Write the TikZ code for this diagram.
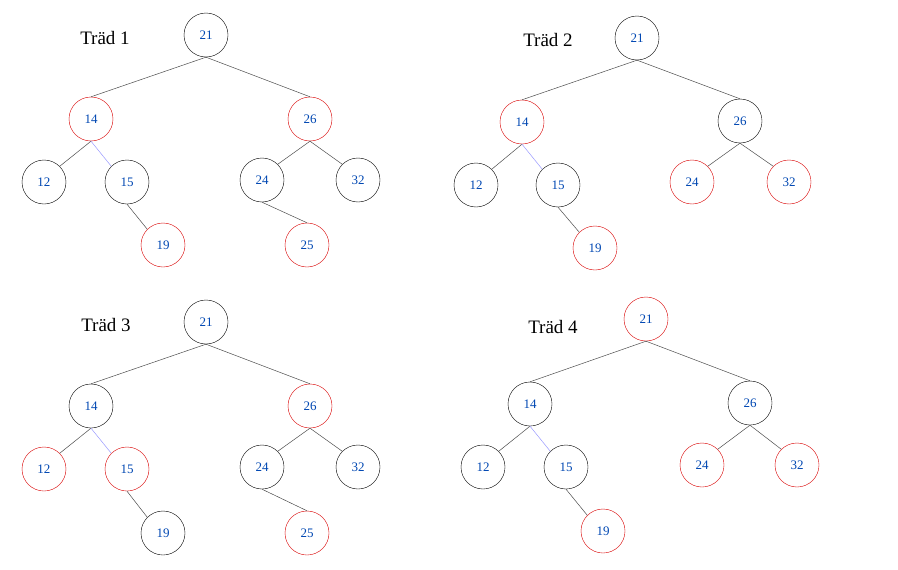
\documentclass[tikz,border=0pt]{standalone}
\usepackage{fontspec}
\setmainfont{Liberation Serif}
\begin{document}
\begin{tikzpicture}[x=1pt,y=-1pt,
 nd/.style={circle,draw=black,minimum size=44pt,inner sep=0pt,text=blue!60!cyan!70!black,font=\fontsize{13}{15}\selectfont},
 rd/.style={nd,draw=red!85!black},
 ed/.style={draw=black!70,line width=0.5pt},
 be/.style={draw=blue!40,line width=0.5pt},
 ttl/.style={font=\fontsize{19}{22}\selectfont}]
\useasboundingbox (0,0) rectangle (898,570);
% Tree 1
\node[nd] (a21) at (206,35) {21};
\node[rd] (a14) at (91,119) {14};
\node[rd] (a26) at (310,119) {26};
\node[nd] (a12) at (44,182) {12};
\node[nd] (a15) at (127,182) {15};
\node[nd] (a24) at (262,180) {24};
\node[nd] (a32) at (358,180) {32};
\node[rd] (a19) at (163,245) {19};
\node[rd] (a25) at (307,245) {25};
\node[ttl] (t1) at (105,38) {Träd 1};
% Tree 2
\node[nd] (b21) at (637,38) {21};
\node[rd] (b14) at (522,122) {14};
\node[nd] (b26) at (740,121) {26};
\node[nd] (b12) at (476,185) {12};
\node[nd] (b15) at (558,185) {15};
\node[rd] (b24) at (692,182) {24};
\node[rd] (b32) at (789,182) {32};
\node[rd] (b19) at (595,248) {19};
\node[ttl] (t2) at (548,40) {Träd 2};
% Tree 3
\node[nd] (c21) at (206,322) {21};
\node[nd] (c14) at (91,406) {14};
\node[rd] (c26) at (310,406) {26};
\node[rd] (c12) at (44,469) {12};
\node[rd] (c15) at (127,469) {15};
\node[nd] (c24) at (262,467) {24};
\node[nd] (c32) at (358,467) {32};
\node[nd] (c19) at (163,533) {19};
\node[rd] (c25) at (307,533) {25};
\node[ttl] (t3) at (106,325) {Träd 3};
% Tree 4
\node[rd] (d21) at (646,319) {21};
\node[nd] (d14) at (530,404) {14};
\node[nd] (d26) at (750,403) {26};
\node[nd] (d12) at (483,467) {12};
\node[nd] (d15) at (566,467) {15};
\node[rd] (d24) at (702,465) {24};
\node[rd] (d32) at (797,465) {32};
\node[rd] (d19) at (603,531) {19};
\node[ttl] (t4) at (553,327) {Träd 4};
\foreach \p in {a,b,c,d}{
 \draw[ed] (\p21.south) -- (\p14.north);
 \draw[ed] (\p21.south) -- (\p26.north);
 \draw[ed] (\p14.south) -- (\p12.north east);
 \draw[be] (\p14.south) -- (\p15.north west);
 \draw[ed] (\p15.south) -- (\p19.north west);
 \draw[ed] (\p26.south) -- (\p24.north east);
 \draw[ed] (\p26.south) -- (\p32.north west);
}
\draw[ed] (a24.south) -- (a25.north);
\draw[ed] (c24.south) -- (c25.north);
\end{tikzpicture}
\end{document}
